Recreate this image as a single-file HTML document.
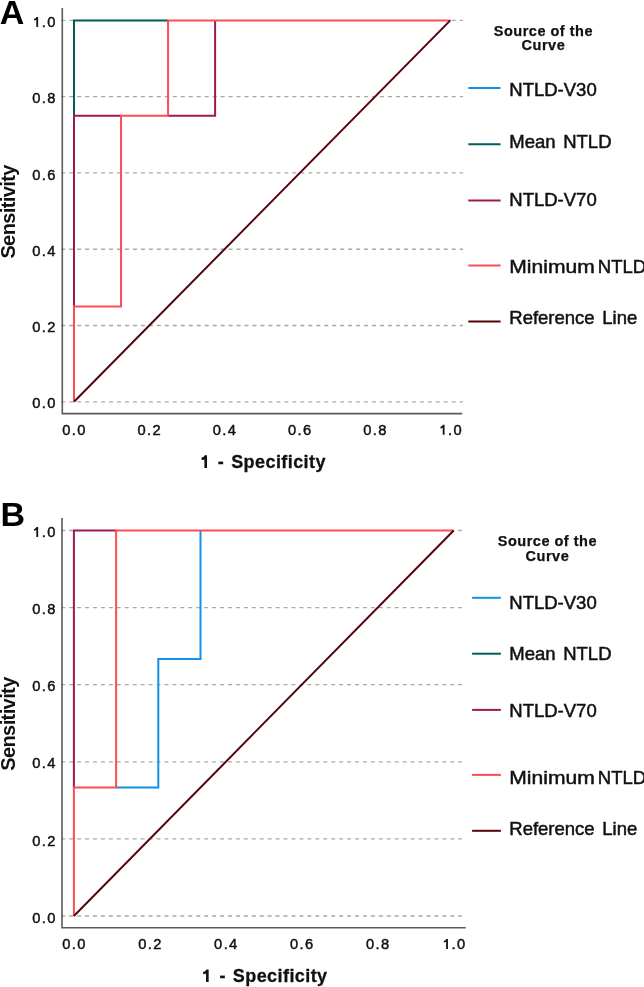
<!DOCTYPE html>
<html><head><meta charset="utf-8"><style>
html,body{margin:0;padding:0;background:#fff;overflow:hidden;width:644px;height:987px;}
svg{display:block;will-change:transform;filter:blur(0.35px);}
text{font-family:"Liberation Sans",sans-serif;fill:#111;}
.tk{font-size:14px;letter-spacing:1.3px;stroke:#111;stroke-width:0.45px;}
.at{font-size:18px;font-weight:bold;stroke:#111;stroke-width:0.3px;}
.sp{letter-spacing:0.43px;}
.st{font-size:20px;font-weight:bold;letter-spacing:-0.6px;}
.pl{font-size:34px;font-weight:bold;fill:#000;}
.lt{font-size:14.5px;font-weight:bold;letter-spacing:0.5px;stroke:#111;stroke-width:0.25px;}
.lg{font-size:18.5px;word-spacing:2.5px;stroke:#111;stroke-width:0.5px;}
</style></head><body>
<svg width="644" height="987" viewBox="0 0 644 987">
<rect width="644" height="987" fill="#fff"/>
<clipPath id="c401"><rect x="0" y="0" width="73.00" height="987"/><rect x="451.30" y="0" width="200" height="987"/></clipPath>
<line x1="61.25" y1="401.80" x2="463" y2="401.80" stroke="#a8a8a8" stroke-width="1.3" stroke-dasharray="3.95 4.02"/>
<line x1="61.25" y1="325.52" x2="463" y2="325.52" stroke="#a8a8a8" stroke-width="1.3" stroke-dasharray="3.95 4.02"/>
<line x1="61.25" y1="249.24" x2="463" y2="249.24" stroke="#a8a8a8" stroke-width="1.3" stroke-dasharray="3.95 4.02"/>
<line x1="61.25" y1="172.96" x2="463" y2="172.96" stroke="#a8a8a8" stroke-width="1.3" stroke-dasharray="3.95 4.02"/>
<line x1="61.25" y1="96.68" x2="463" y2="96.68" stroke="#a8a8a8" stroke-width="1.3" stroke-dasharray="3.95 4.02"/>
<line x1="61.25" y1="20.40" x2="463" y2="20.40" stroke="#a8a8a8" stroke-width="1.3" stroke-dasharray="3.95 4.02" clip-path="url(#c401)"/>
<polyline points="62.3,8 62.3,413.6 462.2,413.6" fill="none" stroke="#5a5a5a" stroke-width="1.6"/>
<polyline points="74.00,115.75 74.00,20.40 168.07,20.40" fill="none" stroke="#005d5d" stroke-width="2" stroke-linejoin="miter"/>
<polyline points="74.00,306.45 74.00,115.75 121.04,115.75" fill="none" stroke="#9f1853" stroke-width="2" stroke-linejoin="miter"/>
<polyline points="168.07,115.75 215.11,115.75 215.11,20.40" fill="none" stroke="#9f1853" stroke-width="2" stroke-linejoin="miter"/>
<polyline points="74.00,401.80 74.00,306.45 121.04,306.45 121.04,115.75 168.07,115.75 168.07,20.40 450.30,20.40" fill="none" stroke="#fa4d56" stroke-width="2" stroke-linejoin="miter"/>
<polyline points="74.00,401.80 450.30,20.40" fill="none" stroke="#570408" stroke-width="2" stroke-linejoin="miter"/>
<text class="tk" transform="translate(32.20,408.40) scale(1.05,1)" x="0" y="0">0.0</text>
<text class="tk" transform="translate(32.20,332.12) scale(1.05,1)" x="0" y="0">0.2</text>
<text class="tk" transform="translate(32.20,255.84) scale(1.05,1)" x="0" y="0">0.4</text>
<text class="tk" transform="translate(32.20,179.56) scale(1.05,1)" x="0" y="0">0.6</text>
<text class="tk" transform="translate(32.20,103.28) scale(1.05,1)" x="0" y="0">0.8</text>
<path transform="translate(43.83,27.00)" d="M -5.7 -10 L -5.7 0 L -7.5 0 L -7.5 -7.4 Q -8.4 -6.6 -9.8 -6.4 L -9.8 -7.9 Q -8.1 -8.4 -7.1 -10 Z" fill="#111"/><text class="tk" transform="translate(32.20,27.00) scale(1.05,1)" x="9.08" y="0">.0</text>
<text class="tk" transform="translate(62.30,434.80) scale(1.05,1)" x="0" y="0">0.0</text>
<text class="tk" transform="translate(137.56,434.80) scale(1.05,1)" x="0" y="0">0.2</text>
<text class="tk" transform="translate(212.82,434.80) scale(1.05,1)" x="0" y="0">0.4</text>
<text class="tk" transform="translate(288.08,434.80) scale(1.05,1)" x="0" y="0">0.6</text>
<text class="tk" transform="translate(363.34,434.80) scale(1.05,1)" x="0" y="0">0.8</text>
<path transform="translate(450.23,434.80)" d="M -5.7 -10 L -5.7 0 L -7.5 0 L -7.5 -7.4 Q -8.4 -6.6 -9.8 -6.4 L -9.8 -7.9 Q -8.1 -8.4 -7.1 -10 Z" fill="#111"/><text class="tk" transform="translate(438.60,434.80) scale(1.05,1)" x="9.08" y="0">.0</text>
<path transform="translate(262.15,468.10)" d="M -55.15 -12.9 L -55.15 -0.2 L -57.75 -0.2 L -57.75 -8.7 Q -58.9 -8.1 -60.55 -8.0 L -60.55 -10.5 Q -58.3 -10.8 -57.4 -12.9 Z" fill="#111"/>
<text class="at" x="217.75" y="468.10">-</text>
<text class="at sp" x="231.15" y="468.10">Specificity</text>
<text class="st" transform="translate(15.4,211.90) rotate(-90)" x="0" y="0" text-anchor="middle">Sensitivity</text>
<text class="pl" x="-0.2" y="24.3">A</text>
<text class="lt" x="543.4" y="36.0" text-anchor="middle">Source of the</text>
<text class="lt" x="543.4" y="50.40" text-anchor="middle">Curve</text>
<line x1="468.3" y1="88.0" x2="500.6" y2="88.0" stroke="#1192e8" stroke-width="2"/>
<text class="lg" x="509.3" y="96.4">NTLD-V30</text>
<line x1="468.3" y1="144.25" x2="500.6" y2="144.25" stroke="#005d5d" stroke-width="2"/>
<text class="lg" x="509.3" y="148.4">Mean NTLD</text>
<line x1="468.3" y1="200.5" x2="500.6" y2="200.5" stroke="#9f1853" stroke-width="2"/>
<text class="lg" x="509.3" y="205.5">NTLD-V70</text>
<line x1="468.3" y1="265.5" x2="500.6" y2="265.5" stroke="#fa4d56" stroke-width="2"/>
<text class="lg" transform="translate(509.3,273) scale(1.14,1)" x="0" y="0">Minimum</text>
<text class="lg" x="597.8" y="273">NTLD</text>
<line x1="468.3" y1="321.5" x2="500.6" y2="321.5" stroke="#570408" stroke-width="2"/>
<text class="lg" x="509.3" y="324.3">Reference Line</text>
<clipPath id="c916"><rect x="0" y="0" width="72.90" height="987"/><rect x="454.70" y="0" width="200" height="987"/></clipPath>
<line x1="61.25" y1="916.00" x2="462" y2="916.00" stroke="#a8a8a8" stroke-width="1.3" stroke-dasharray="3.95 3.99"/>
<line x1="61.25" y1="838.90" x2="462" y2="838.90" stroke="#a8a8a8" stroke-width="1.3" stroke-dasharray="3.95 3.99"/>
<line x1="61.25" y1="761.80" x2="462" y2="761.80" stroke="#a8a8a8" stroke-width="1.3" stroke-dasharray="3.95 3.99"/>
<line x1="61.25" y1="684.70" x2="462" y2="684.70" stroke="#a8a8a8" stroke-width="1.3" stroke-dasharray="3.95 3.99"/>
<line x1="61.25" y1="607.60" x2="462" y2="607.60" stroke="#a8a8a8" stroke-width="1.3" stroke-dasharray="3.95 3.99"/>
<line x1="61.25" y1="530.50" x2="462" y2="530.50" stroke="#a8a8a8" stroke-width="1.3" stroke-dasharray="3.95 3.99" clip-path="url(#c916)"/>
<polyline points="62.0,518 62.0,927.8 465.7,927.8" fill="none" stroke="#5a5a5a" stroke-width="1.6"/>
<polyline points="73.90,787.50 73.90,530.50 116.10,530.50" fill="none" stroke="#9f1853" stroke-width="2" stroke-linejoin="miter"/>
<polyline points="116.10,787.50 158.30,787.50 158.30,659.00 200.50,659.00 200.50,530.50" fill="none" stroke="#1192e8" stroke-width="2" stroke-linejoin="miter"/>
<polyline points="73.90,916.00 73.90,787.50 116.10,787.50 116.10,530.50 453.70,530.50" fill="none" stroke="#fa4d56" stroke-width="2" stroke-linejoin="miter"/>
<polyline points="73.90,916.00 453.70,530.50" fill="none" stroke="#570408" stroke-width="2" stroke-linejoin="miter"/>
<text class="tk" transform="translate(32.20,922.60) scale(1.05,1)" x="0" y="0">0.0</text>
<text class="tk" transform="translate(32.20,845.50) scale(1.05,1)" x="0" y="0">0.2</text>
<text class="tk" transform="translate(32.20,768.40) scale(1.05,1)" x="0" y="0">0.4</text>
<text class="tk" transform="translate(32.20,691.30) scale(1.05,1)" x="0" y="0">0.6</text>
<text class="tk" transform="translate(32.20,614.20) scale(1.05,1)" x="0" y="0">0.8</text>
<path transform="translate(43.83,537.10)" d="M -5.7 -10 L -5.7 0 L -7.5 0 L -7.5 -7.4 Q -8.4 -6.6 -9.8 -6.4 L -9.8 -7.9 Q -8.1 -8.4 -7.1 -10 Z" fill="#111"/><text class="tk" transform="translate(32.20,537.10) scale(1.05,1)" x="9.08" y="0">.0</text>
<text class="tk" transform="translate(62.20,949.00) scale(1.05,1)" x="0" y="0">0.0</text>
<text class="tk" transform="translate(138.16,949.00) scale(1.05,1)" x="0" y="0">0.2</text>
<text class="tk" transform="translate(214.12,949.00) scale(1.05,1)" x="0" y="0">0.4</text>
<text class="tk" transform="translate(290.08,949.00) scale(1.05,1)" x="0" y="0">0.6</text>
<text class="tk" transform="translate(366.04,949.00) scale(1.05,1)" x="0" y="0">0.8</text>
<path transform="translate(453.63,949.00)" d="M -5.7 -10 L -5.7 0 L -7.5 0 L -7.5 -7.4 Q -8.4 -6.6 -9.8 -6.4 L -9.8 -7.9 Q -8.1 -8.4 -7.1 -10 Z" fill="#111"/><text class="tk" transform="translate(442.00,949.00) scale(1.05,1)" x="9.08" y="0">.0</text>
<path transform="translate(263.80,982.30)" d="M -55.15 -12.9 L -55.15 -0.2 L -57.75 -0.2 L -57.75 -8.7 Q -58.9 -8.1 -60.55 -8.0 L -60.55 -10.5 Q -58.3 -10.8 -57.4 -12.9 Z" fill="#111"/>
<text class="at" x="219.40" y="982.30">-</text>
<text class="at sp" x="232.80" y="982.30">Specificity</text>
<text class="st" transform="translate(15.4,724.05) rotate(-90)" x="0" y="0" text-anchor="middle">Sensitivity</text>
<text class="pl" x="0.4" y="525.8">B</text>
<text class="lt" x="547.4" y="546.3" text-anchor="middle">Source of the</text>
<text class="lt" x="547.4" y="560.70" text-anchor="middle">Curve</text>
<line x1="472.1" y1="597.8" x2="500.9" y2="597.8" stroke="#1192e8" stroke-width="2"/>
<text class="lg" x="509.3" y="608.6">NTLD-V30</text>
<line x1="472.1" y1="653.7" x2="500.9" y2="653.7" stroke="#005d5d" stroke-width="2"/>
<text class="lg" x="509.3" y="659.6">Mean NTLD</text>
<line x1="472.1" y1="709.9" x2="500.9" y2="709.9" stroke="#9f1853" stroke-width="2"/>
<text class="lg" x="509.3" y="717.1">NTLD-V70</text>
<line x1="472.1" y1="774.9" x2="500.9" y2="774.9" stroke="#fa4d56" stroke-width="2"/>
<text class="lg" transform="translate(509.3,783.9) scale(1.14,1)" x="0" y="0">Minimum</text>
<text class="lg" x="597.8" y="783.9">NTLD</text>
<line x1="472.1" y1="830.8" x2="500.9" y2="830.8" stroke="#570408" stroke-width="2"/>
<text class="lg" x="509.3" y="835.1">Reference Line</text>
</svg>
</body></html>
